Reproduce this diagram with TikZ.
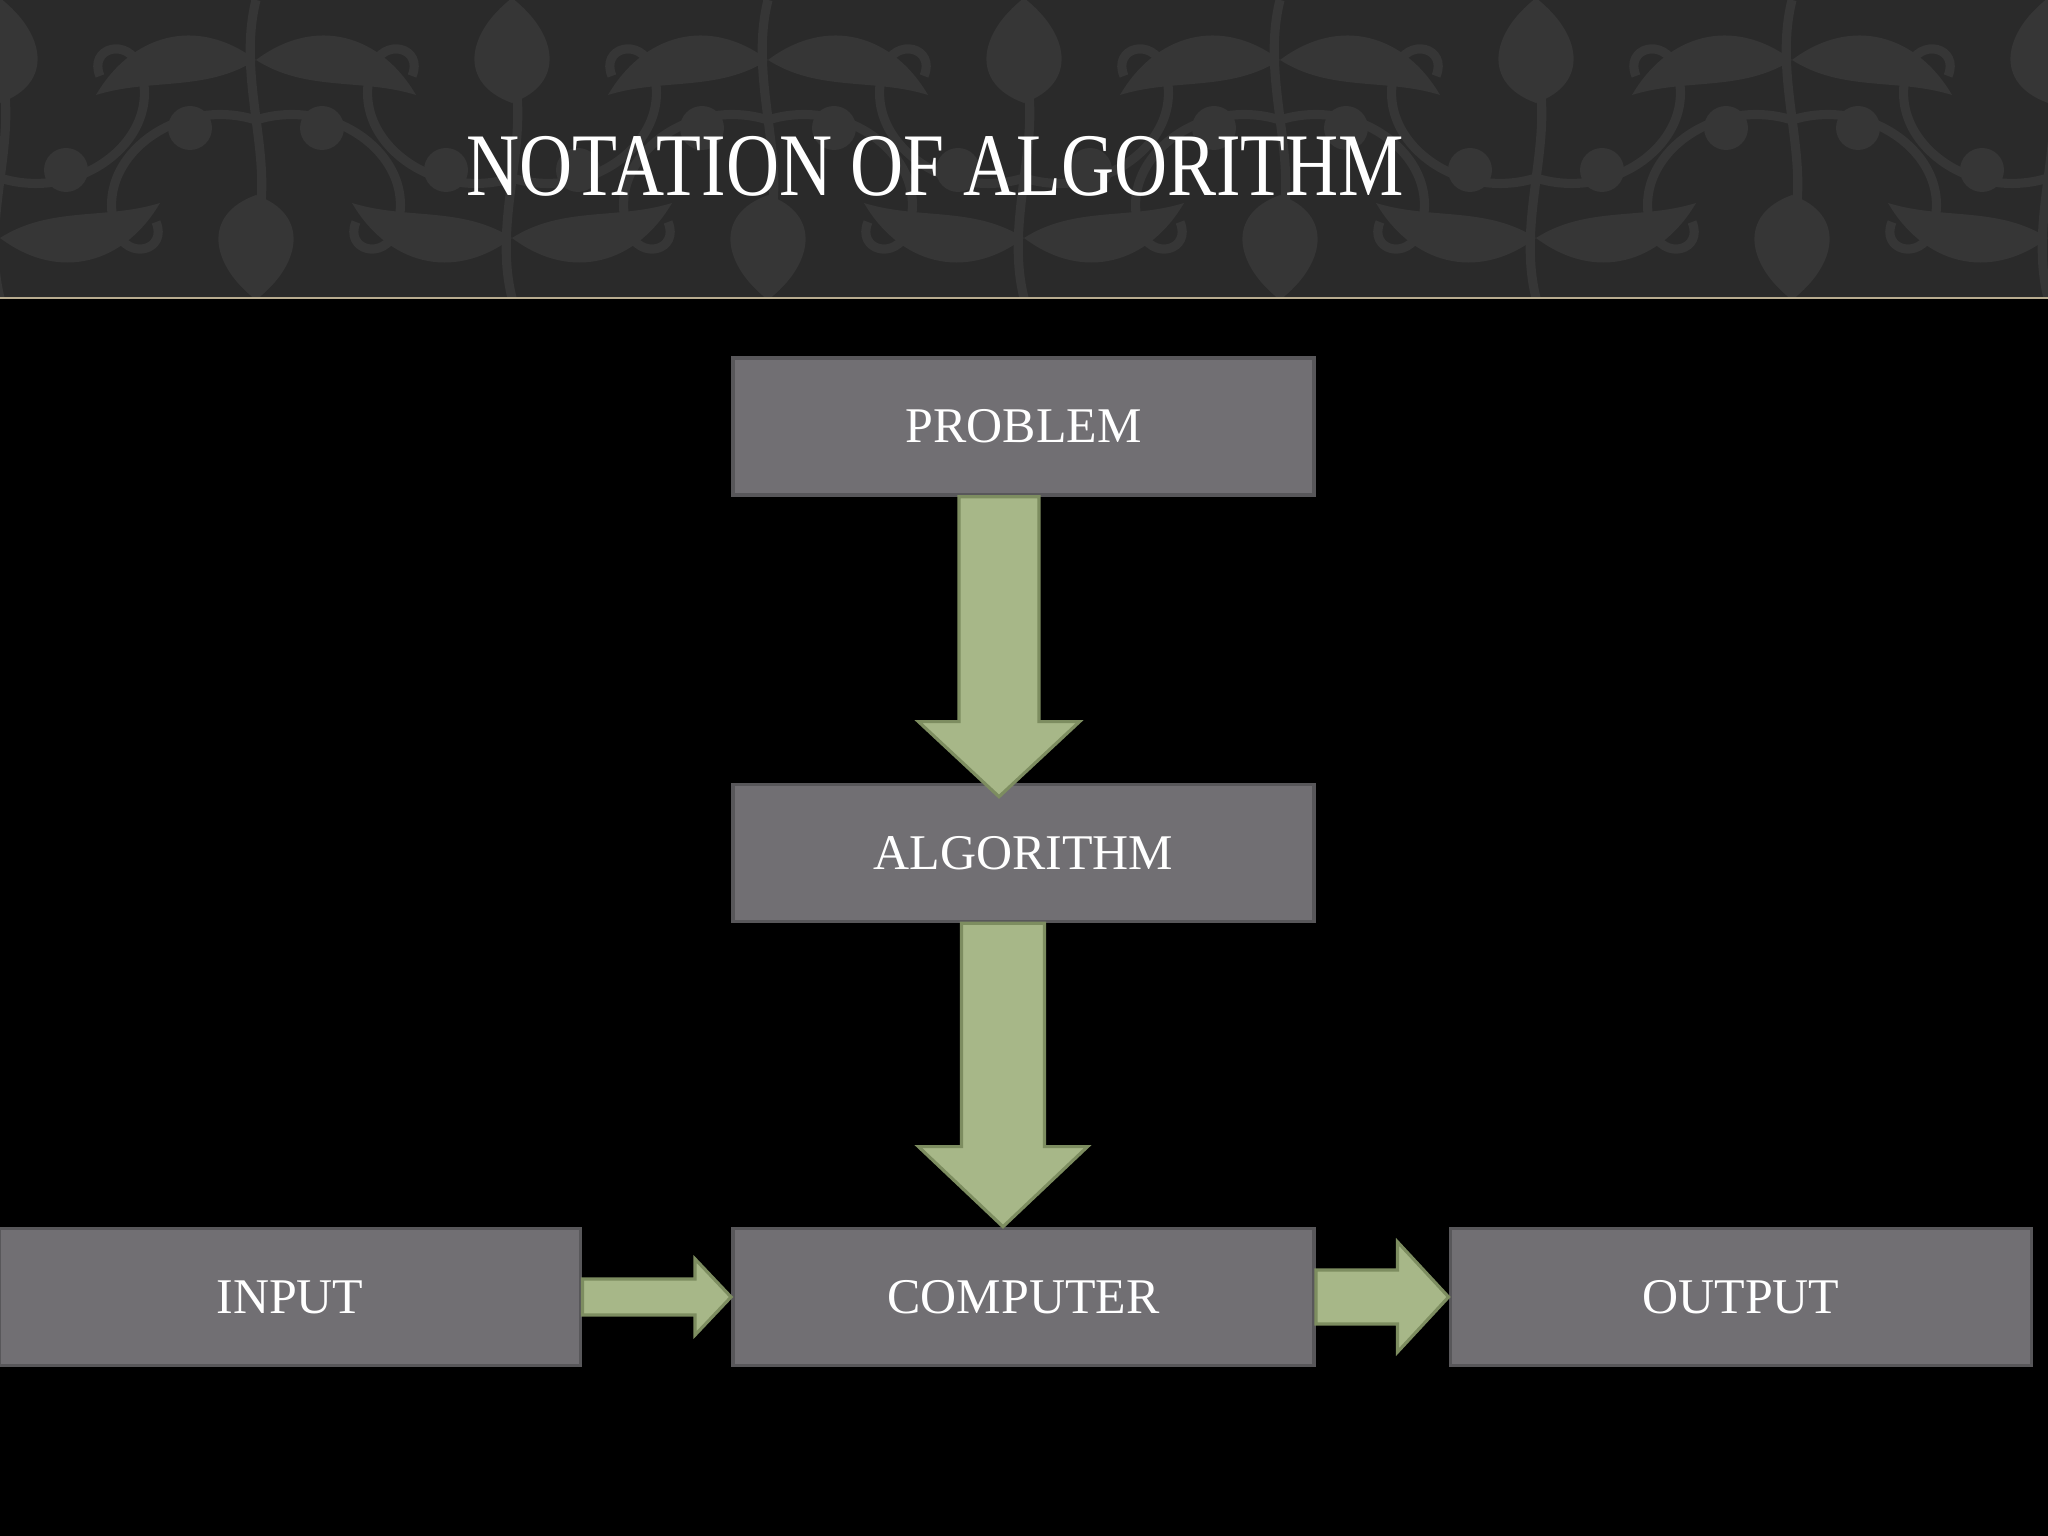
\documentclass[tikz,border=0pt]{standalone}
\usepackage{fontspec}
\setmainfont{Liberation Serif}
\newfontfamily\titlefont[FakeStretch=0.823]{Liberation Serif}
\usetikzlibrary{positioning,calc}

\definecolor{headbg}{HTML}{2A2A2A}
\definecolor{damaskfg}{HTML}{363636}
\definecolor{rulecol}{HTML}{B8AC90}
\definecolor{boxfill}{HTML}{716F73}
\definecolor{boxline}{HTML}{58575A}
\definecolor{arrowfill}{HTML}{A7B788}
\definecolor{arrowline}{HTML}{7D8D60}

\tikzset{
  block/.style={draw=boxline, fill=boxfill, line width=1pt, minimum width=5.81cm,
    minimum height=1.37cm, inner sep=0pt, text=white, font=\fontsize{14.2}{17}\selectfont},
  flow/.style={draw=arrowline, fill=arrowfill, line width=0.9pt, line join=miter},
  fleur/.pic={
    % stem and bud
    \draw[line width=2.6pt] (0,0) .. controls (-20,80) and (20,160) .. (0,230);
    \fill (0,300) .. controls (-45,265) and (-55,215) .. (0,195) .. controls (55,215) and (45,265) .. (0,300);
    % curls and leaves, both sides
    \foreach \s in {1,-1} {
      \draw[line width=2.6pt] (0,120) .. controls (-80*\s,95) and (-165*\s,160) .. (-140*\s,230)
        .. controls (-128*\s,262) and (-88*\s,250) .. (-100*\s,222);
      \fill (0,60) .. controls (-60*\s,15) and (-125*\s,35) .. (-160*\s,95)
        .. controls (-105*\s,78) and (-50*\s,92) .. (0,60);
      \fill (-190*\s,170) circle (22);
    }
  }
}

% block arrow: start, tip, shaft half-width, head half-width, head length
\newcommand{\blockarrow}[5]{%
  \coordinate (neck) at ($(#2)!#5!(#1)$);
  \draw[flow] ($(#1)!#3!90:(#2)$) -- ($(neck)!#3!90:(#2)$) -- ($(neck)!#4!90:(#2)$)
    -- (#2) -- ($(neck)!#4!-90:(#2)$) -- ($(neck)!#3!-90:(#2)$) -- ($(#1)!#3!-90:(#2)$) -- cycle;
}

\begin{document}
\begin{tikzpicture}[x=0.01cm, y=0.01cm]
    \useasboundingbox (0,0) rectangle (2048,1536);
    % Background and header band
    \fill[black] (0,0) rectangle (2048,1536);
    \fill[headbg] (0,1238) rectangle (2048,1536);
    \begin{scope}[damaskfg]
        \clip (0,1238) rectangle (2048,1536);
        \foreach \x in {0,512,...,2048} {
            \pic at (\x,1238) {fleur};
            \pic[yscale=-1] at (\x+256,1536) {fleur};
        }
    \end{scope}
    \draw[rulecol, line width=0.7pt] (0,1238) -- (2048,1238);

    % Title
    \node[anchor=base west, inner sep=0pt, text=white, font=\titlefont\fontsize{25.4}{30}\selectfont]
        (title) at (466,1340) {NOTATION OF ALGORITHM};

    % Boxes
    \node[block] (problem) at (1023.5,1109.5) {PROBLEM};
    \node[block] (algorithm) at (1023.5,683) {ALGORITHM};
    \node[block] (computer) at (1023.5,239) {COMPUTER};
    \node[block] (input) at (290,239) {INPUT};
    \node[block] (output) at (1741,239) {OUTPUT};

    % Arrows
    \coordinate (p1) at ($(problem.south)+(-24.5,0)$);
    \coordinate (q1) at ($(algorithm.north)+(-24.5,-14)$);
    \blockarrow{p1}{q1}{0.40cm}{0.805cm}{0.75cm}
    \coordinate (p2) at ($(algorithm.south)+(-20.5,0)$);
    \coordinate (q2) at ($(computer.north)+(-20.5,0)$);
    \blockarrow{p2}{q2}{0.415cm}{0.845cm}{0.80cm}
    \blockarrow{input.east}{computer.west}{0.18cm}{0.38cm}{0.36cm}
    \blockarrow{computer.east}{output.west}{0.27cm}{0.55cm}{0.51cm}
\end{tikzpicture}
\end{document}
